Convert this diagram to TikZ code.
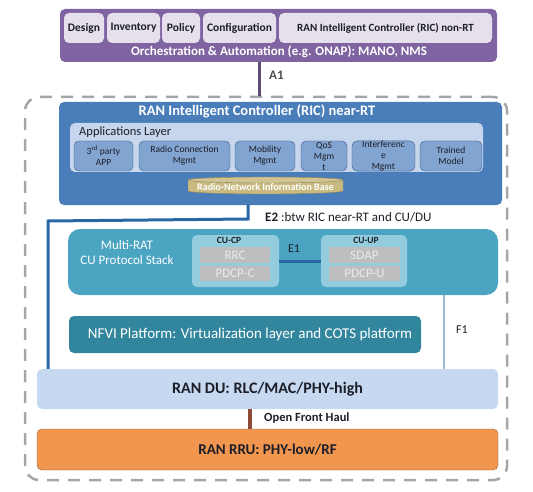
\documentclass[tikz,border=0pt]{standalone}
\usepackage{fontspec}
\setmainfont{Carlito}
\usepackage{tikz}
\usepackage{xcolor}

\definecolor{orchpurple}{RGB}{128,100,162}
\definecolor{lavender}{RGB}{229,224,236}
\definecolor{ricblue}{RGB}{74,126,187}
\definecolor{applight}{RGB}{198,214,236}
\definecolor{appblue}{RGB}{130,164,208}
\definecolor{appedge}{RGB}{55,90,140}
\definecolor{dbtan}{RGB}{200,186,128}
\definecolor{cuteal}{RGB}{75,165,194}
\definecolor{cuinner}{RGB}{147,205,221}
\definecolor{stackgray}{RGB}{190,190,190}
\definecolor{nfviteal}{RGB}{49,133,156}
\definecolor{dublue}{RGB}{198,217,240}
\definecolor{rruorange}{RGB}{240,150,78}
\definecolor{e2blue}{RGB}{40,105,165}
\definecolor{f1blue}{RGB}{160,185,215}
\definecolor{haulbrown}{RGB}{140,75,55}
\definecolor{darktext}{RGB}{30,30,40}

\tikzset{
    box/.style={rounded corners=5pt, inner sep=0pt, align=center},
    topbox/.style={box, fill=lavender, minimum height=30pt, font=\fontsize{11.5}{12}\selectfont\bfseries, text=darktext},
    appbox/.style={box, fill=appblue, draw=appedge, minimum height=30pt, font=\fontsize{9.5}{11}\selectfont, text=darktext},
    stackbox/.style={inner sep=0pt, fill=stackgray, text=white!92!black, font=\fontsize{13}{13}\selectfont},
}

\begin{document}
\begin{tikzpicture}[x=1pt,y=-1pt]
        \useasboundingbox (0,0) rectangle (533,492);

        % outer dashed area
        \node[draw=gray!70, line width=2.5pt, dash pattern=on 12pt off 9pt, rounded corners=14pt,
              minimum width=482pt, minimum height=383pt] (edge) at (266,288.5) {};

        % orchestration
        \node[box, fill=orchpurple, minimum width=437pt, minimum height=53pt] (orch) at (278.5,35.5) {};
        \node[topbox, minimum width=40pt] (design) at (84,28) {Design};
        \node[topbox, minimum width=53pt] (inventory) at (133.5,28) {Inventory};
        \node[topbox, minimum width=38pt] (policy) at (181,28) {Policy};
        \node[topbox, minimum width=73pt] (config) at (239.5,28) {Configuration};
        \node[topbox, minimum width=213pt, font=\fontsize{11}{12}\selectfont\bfseries] (nonrt) at (385.5,28)
            {RAN Intelligent Controller (RIC) non-RT};
        \node[text=white, font=\fontsize{13}{14}\selectfont\bfseries] (orchlabel) at (279,52)
            {Orchestration \& Automation (e.g. ONAP): MANO, NMS};

        % near-RT RIC
        \node[box, fill=ricblue, minimum width=443pt, minimum height=103pt] (ric) at (280.5,153.5) {};
        \node[text=white, font=\fontsize{14.5}{15}\selectfont\bfseries] (rictitle) at (257,111)
            {RAN Intelligent Controller (RIC) near-RT};
        \node[box, fill=applight, minimum width=413pt, minimum height=49pt] (applayer) at (276.5,147.5) {};
        \node[anchor=west, inner sep=0pt, text=darktext, font=\fontsize{12.5}{13}\selectfont] (applabel) at (79,132)
            {Applications Layer};
        \node[appbox, minimum width=59pt] (thirdparty) at (103.5,156) {3\textsuperscript{rd} party\\APP};
        \node[appbox, minimum width=91pt] (radioconn) at (184.5,156) {Radio Connection\\Mgmt};
        \node[appbox, minimum width=60pt] (mobility) at (265,156) {Mobility\\Mgmt};
        \node[appbox, minimum width=46pt] (qos) at (324,156) {QoS\\Mgm\\t};
        \node[appbox, minimum width=63pt] (interf) at (383.5,156) {Interferenc\\e\\Mgmt};
        \node[appbox, minimum width=62pt] (trained) at (451,156) {Trained\\Model};

        % database
        \filldraw[fill=dbtan, draw=dbtan!70!black] (188,180) -- (188,191)
            arc[start angle=180, end angle=360, x radius=77.5pt, y radius=3pt] -- (343,180)
            arc[start angle=0, end angle=180, x radius=77.5pt, y radius=3pt] -- cycle;
        \draw[dbtan!70!black, fill=dbtan!85!white] (265.5,180) ellipse [x radius=77.5pt, y radius=3pt];
        \node[inner sep=0pt, text=white, font=\fontsize{10}{10}\selectfont\bfseries] (rnib) at (265.5,187.5)
            {Radio-Network Information Base};

        % CU
        \node[box, rounded corners=12pt, fill=cuteal, minimum width=430pt, minimum height=66pt] (cu) at (283,262) {};
        \node[text=white, align=center, font=\fontsize{13}{15}\selectfont] (cutext) at (127,253)
            {Multi-RAT\\CU Protocol Stack};
        \node[box, fill=cuinner, minimum width=87pt, minimum height=52pt] (cucp) at (235.5,261) {};
        \node[box, fill=cuinner, minimum width=86pt, minimum height=52pt] (cuup) at (364,261) {};
        \node[text=darktext, inner sep=0pt, font=\fontsize{9.5}{10}\selectfont\bfseries] (cucplabel) at (229,240) {CU-CP};
        \node[text=darktext, inner sep=0pt, font=\fontsize{9.5}{10}\selectfont\bfseries] (cuuplabel) at (366,240) {CU-UP};
        \node[stackbox, minimum width=70pt, minimum height=16pt] (rrc) at (235,255) {RRC};
        \node[stackbox, minimum width=70pt, minimum height=15pt] (pdcpc) at (235,273.5) {PDCP-C};
        \node[stackbox, minimum width=71pt, minimum height=16pt] (sdap) at (364.5,255) {SDAP};
        \node[stackbox, minimum width=71pt, minimum height=15pt] (pdcpu) at (364.5,273.5) {PDCP-U};

        % NFVI
        \node[box, fill=nfviteal, minimum width=352pt, minimum height=37pt, text=white,
              font=\fontsize{15}{16}\selectfont] (nfvi) at (245,334.5)
            {\hspace{10pt}NFVI Platform: Virtualization layer and COTS platform};

        % DU and RRU
        \node[box, fill=dublue, minimum width=461pt, minimum height=40pt, text=darktext,
              font=\fontsize{16}{17}\selectfont\bfseries] (du) at (267.5,389) {RAN DU: RLC/MAC/PHY-high};
        \node[box, fill=rruorange, draw=rruorange!60!black, minimum width=461pt, minimum height=41pt, text=darktext,
              font=\fontsize{15}{16}\selectfont\bfseries] (rru) at (267.5,449.5) {RAN RRU: PHY-low/RF};

        % interfaces
        \coordinate (a1) at (259,80);
        \coordinate (e2a) at (248,219);
        \coordinate (e2b) at (48,221);
        \coordinate (f1) at (444,330);
        \coordinate (ofh) at (250,419);
        \draw[orchpurple!75!black, line width=3pt] (a1 |- orch.south) -- (a1 |- edge.north);
        \draw[e2blue, line width=3pt] (e2a |- ric.south) -- (e2a) -- (e2b) -- (e2b |- du.north);
        \draw[e2blue, line width=3pt] (cucp.east) -- (cuup.west);
        \draw[f1blue, line width=2pt] (f1 |- cu.south) -- (f1 |- du.north);
        \draw[haulbrown, line width=3.5pt] (ofh |- du.south) -- (ofh |- rru.north);

        % labels
        \node[anchor=west, inner sep=0pt, text=darktext!80, font=\fontsize{13}{14}\selectfont\bfseries] at (269,75) {A1};
        \node[anchor=west, inner sep=0pt, text=darktext, font=\fontsize{13}{14}\selectfont] at (265,217)
            {\textbf{E2} :btw RIC near-RT and CU/DU};
        \node[text=darktext, inner sep=0pt, font=\fontsize{12}{13}\selectfont] at (294,249) {E1};
        \node[text=darktext, inner sep=0pt, font=\fontsize{12}{13}\selectfont] at (462,330) {F1};
        \node[anchor=west, inner sep=0pt, text=darktext, font=\fontsize{12.5}{13}\selectfont\bfseries] at (264,418) {Open Front Haul};
\end{tikzpicture}
\end{document}
